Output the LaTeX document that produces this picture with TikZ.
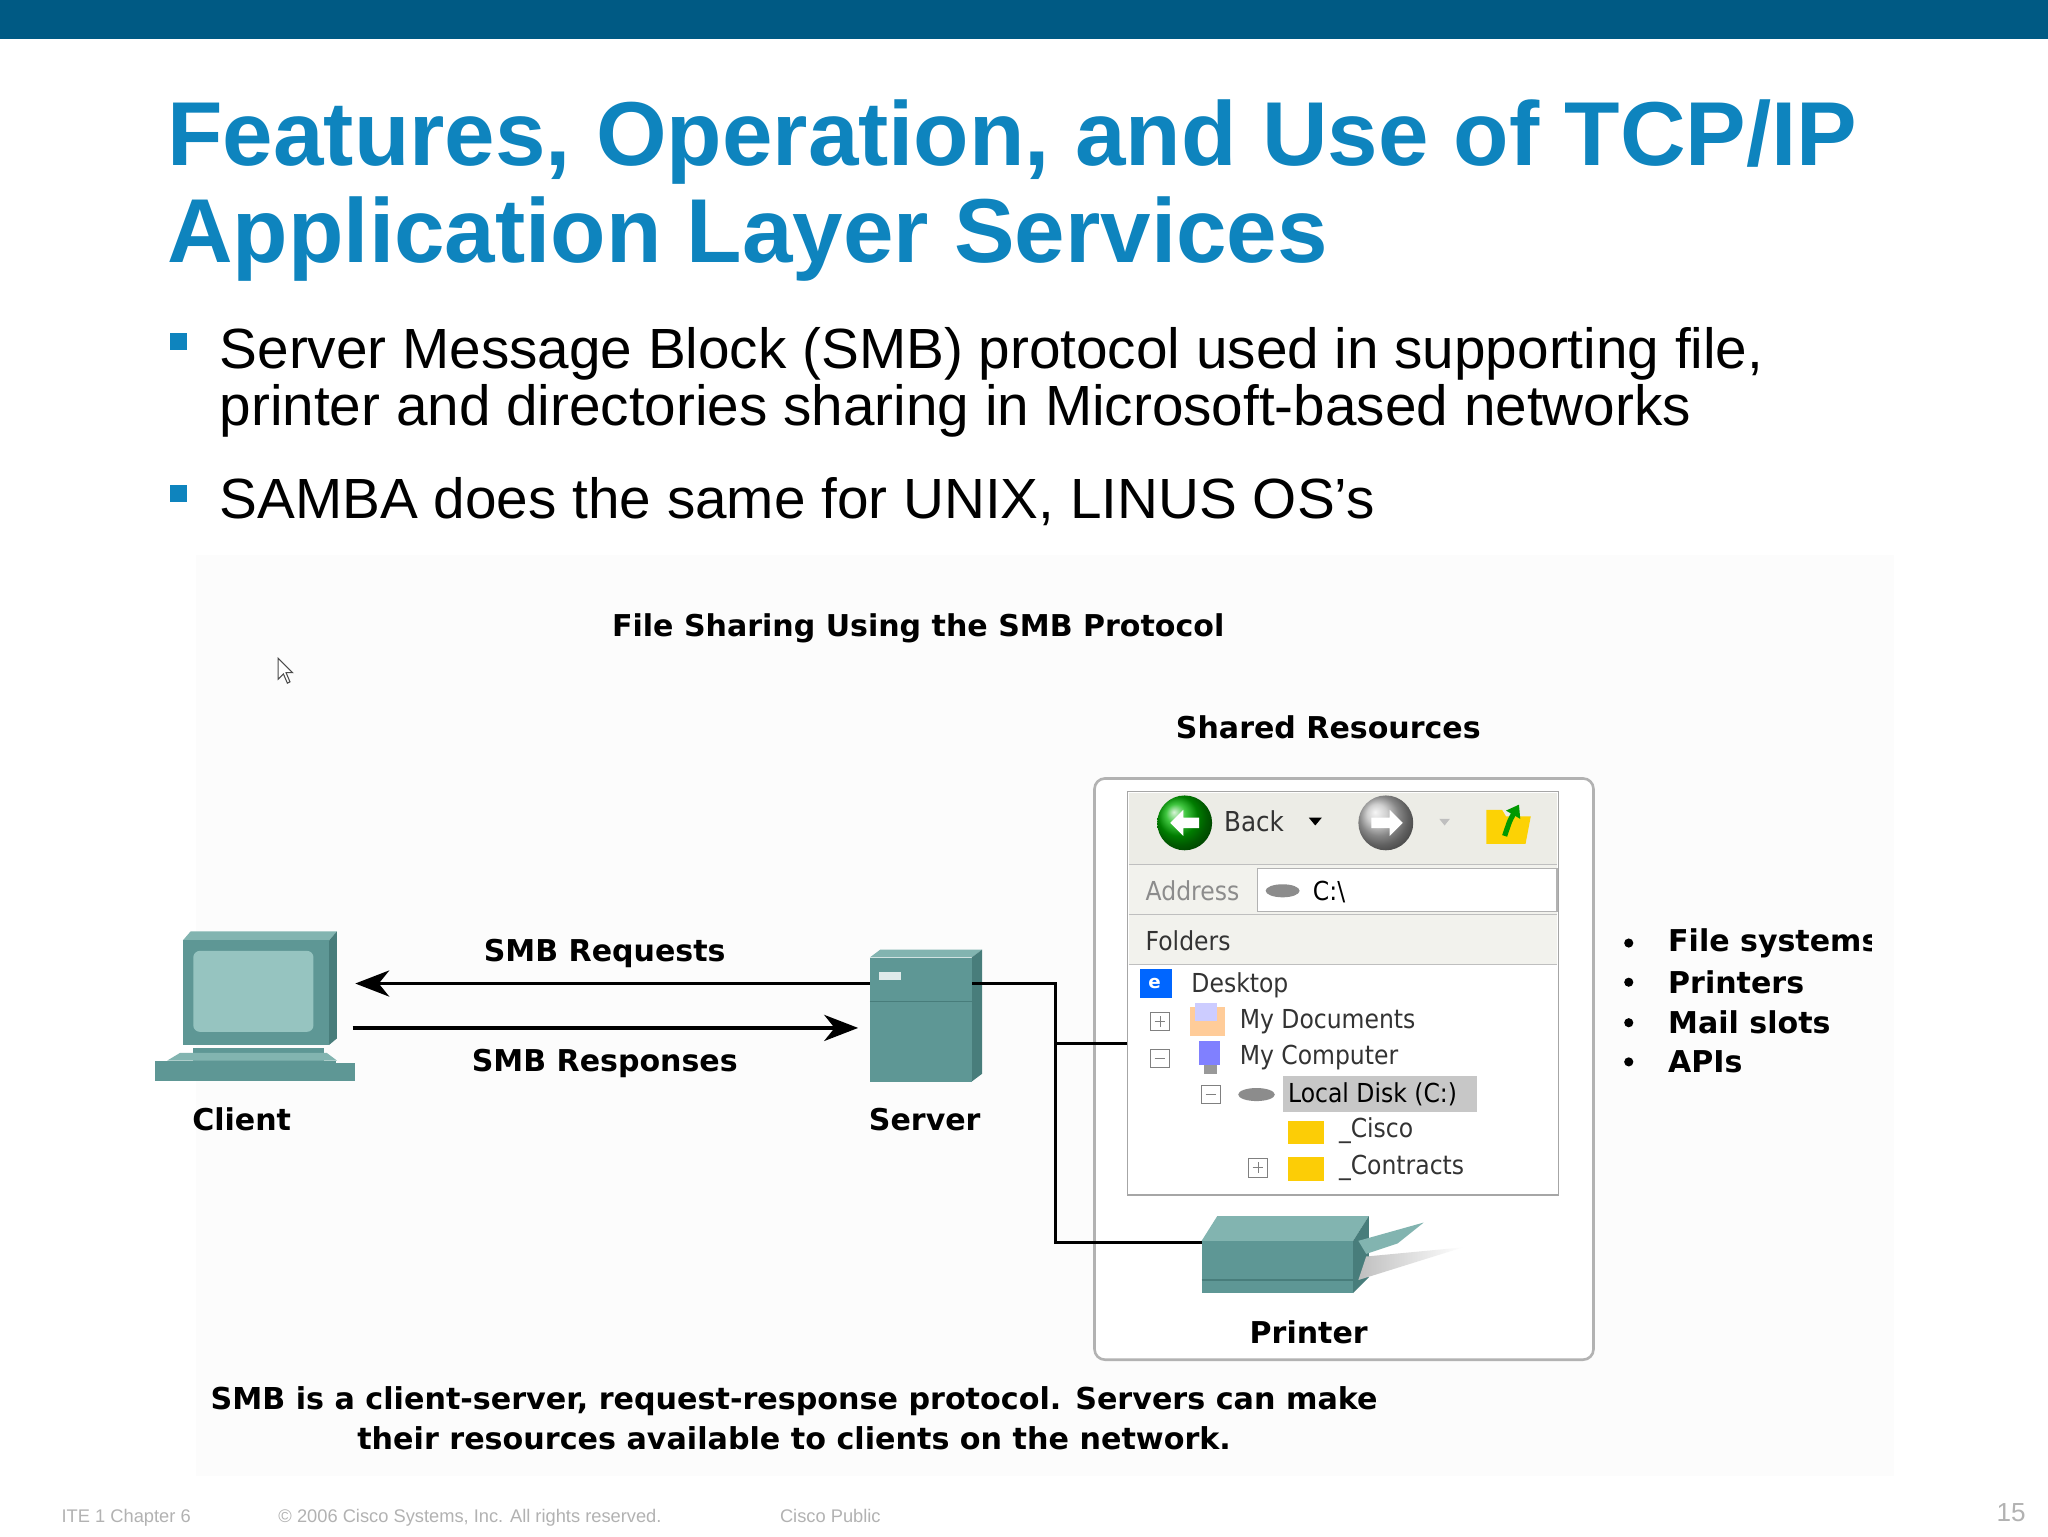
\documentclass[tikz,border=0pt]{standalone}
\usepackage{fontspec}
\setmainfont{Liberation Sans}
\newfontfamily\dv{DejaVu Sans}
\newfontfamily\dvc{DejaVu Sans Condensed}
\usetikzlibrary{arrows.meta}
\definecolor{topbar}{RGB}{0,90,132}
\definecolor{ciscoblue}{RGB}{14,132,190}
\definecolor{teal}{RGB}{94,151,149}
\definecolor{tealtop}{RGB}{130,180,176}
\definecolor{tealside}{RGB}{72,125,123}
\definecolor{tealscr}{RGB}{150,196,192}
\definecolor{tbgray}{RGB}{236,236,230}
\tikzset{
 lab/.style={font=\dv\bfseries\fontsize{23}{27}\selectfont, inner sep=0pt},
 tree/.style={font=\dvc\fontsize{20}{24}\selectfont, anchor=west, inner sep=0pt, text=black!80},
 conn/.style={line width=2.5pt},
 arr/.style={line width=2.5pt, -{Stealth[length=26pt,width=20pt,inset=8pt]}},
 dev/.style={fill=teal},
 foot/.style={font=\fontsize{14}{16}\selectfont, text=black!30, anchor=base west, inner sep=0pt}
}
\begin{document}
\begin{tikzpicture}[x=1pt,y=-1pt]
\useasboundingbox (0,0) rectangle (1568,1176);
\fill[white] (0,0) rectangle (1568,1176);
\fill[black!1.2] (150,425) rectangle (1450,1130);
\fill[topbar] (0,0) rectangle (1568,30);
% title
\node[anchor=base west, inner sep=0pt, text=ciscoblue, font=\bfseries\fontsize{69.5}{74}\selectfont] (t1) at (128,127) {Features, Operation, and Use of TCP/IP};
\node[anchor=base west, inner sep=0pt, text=ciscoblue, font=\bfseries\fontsize{69.5}{74}\selectfont] (t2) at (128,201) {Application Layer Services};
% bullets
\fill[ciscoblue] (130,255) rectangle (143,268);
\fill[ciscoblue] (130,371) rectangle (143,384);
\node[anchor=base west, inner sep=0pt, font=\fontsize{43.4}{44}\selectfont] (b1) at (168,282) {Server Message Block (SMB) protocol used in supporting file,};
\node[anchor=base west, inner sep=0pt, font=\fontsize{43.4}{44}\selectfont] (b1b) at (168,326) {printer and directories sharing in Microsoft-based networks};
\node[anchor=base west, inner sep=0pt, font=\fontsize{43.4}{44}\selectfont] (b2) at (168,397) {SAMBA does the same for UNIX, LINUS OS’s};
% diagram titles
\node[lab] (dt) at (703,481) {File Sharing Using the SMB Protocol};
\node[lab] (sr) at (1017,557) {Shared Resources};
% cursor
\draw[black!70, line width=0.8pt, fill=white] (213,504) -- (213,520) -- (217,516) -- (220,523) -- (222,522) -- (219,515) -- (224,515) -- cycle;
% explorer outer
\draw[black!30, line width=2pt, fill=white, rounded corners=8pt] (838,596) rectangle (1220,1041);
\node[draw=black!35, line width=1pt, fill=white, minimum width=330pt, minimum height=309pt, inner sep=0pt] (win) at (1028,760.5) {};
\fill[tbgray] (864,607) rectangle (1192,662);
\fill[tbgray!70] (864,662) rectangle (1192,738);
\draw[black!25] (864,662) -- (1192,662) (864,738) -- (1192,738) (864,700) -- (1192,700);
\draw[black!30, line width=1pt, fill=white] (963,665) rectangle (1192,698);
% back/forward icons
\shade[ball color=green!70!black] (907,630) circle (21);
\fill[white] (896,630) -- (906,620) -- (906,626) -- (918,626) -- (918,634) -- (906,634) -- (906,640) -- cycle;
\node[tree, font=\dvc\fontsize{21}{24}\selectfont] (back) at (937,629) {Back};
\fill[black] (1002,626) -- (1012,626) -- (1007,632) -- cycle;
\shade[ball color=black!25] (1061,630) circle (21);
\fill[white] (1074,630) -- (1064,620) -- (1064,626) -- (1050,626) -- (1050,634) -- (1064,634) -- (1064,640) -- cycle;
\fill[black!25] (1102,627) -- (1110,627) -- (1106,632) -- cycle;
\fill[yellow!70!orange] (1138,620) -- (1150,620) -- (1153,625) -- (1172,625) -- (1168,646) -- (1138,646) -- cycle;
\draw[green!60!black, line width=4pt, -{Triangle[length=9pt,width=12pt]}] (1152,640) .. controls (1156,628) .. (1163,616);
% address
\node[tree, text=black!45] (addr) at (877,682) {Address};
\fill[black!45] (982,682) ellipse (13 and 5);
\node[tree, text=black] (cdrv) at (1005,683) {C:\textbackslash};
\node[tree] (fold) at (877,720) {Folders};
% tree
\fill[blue!60!cyan] (873,742) rectangle (897,764);
\node[tree, text=white, font=\dv\bfseries\fontsize{14}{14}\selectfont] at (879,753) {e};
\node[tree] (desk) at (912,754) {Desktop};
\draw[black!50] (881,775) rectangle (895,789) (884,782) -- (892,782) (888,778) -- (888,786);
\fill[orange!40] (911,771) rectangle (938,793);
\fill[blue!20] (915,768) rectangle (932,782);
\node[tree] (mydoc) at (949,782) {My Documents};
\draw[black!50] (881,803) rectangle (895,817) (884,810) -- (892,810);
\fill[blue!50] (918,797) rectangle (934,815);
\fill[black!40] (922,815) rectangle (932,822);
\node[tree] (mycomp) at (949,810) {My Computer};
\draw[black!50] (920,831) rectangle (934,845) (923,838) -- (931,838);
\fill[black!45] (962,838) ellipse (14 and 5);
\fill[black!22] (982,824) rectangle (1131,851);
\node[tree, text=black] (ldisk) at (986,838) {Local Disk (C:)};
\fill[yellow!65!orange] (986,858) rectangle (1014,876);
\node[tree] (cisco) at (1025,866) {\_Cisco};
\draw[black!50] (956,887) rectangle (970,901) (959,894) -- (967,894) (963,890) -- (963,898);
\fill[yellow!65!orange] (986,886) rectangle (1014,904);
\node[tree] (contr) at (1025,894) {\_Contracts};
% client computer
\fill[tealtop] (140,720) -- (146,713) -- (258,713) -- (252,720) -- cycle;
\fill[tealside] (252,720) -- (258,713) -- (258,795) -- (252,800) -- cycle;
\fill[teal] (140,720) rectangle (252,800);
\fill[tealscr, rounded corners=5pt] (148,728) rectangle (240,790);
\fill[teal] (148,802) rectangle (248,812);
\fill[teal] (155,812) rectangle (242,820);
\fill[tealtop] (128,812) -- (138,806) -- (250,806) -- (258,812) -- cycle;
\node[dev, draw=none, inner sep=0pt, minimum width=138pt, minimum height=16pt] (client) at (188,820) {};
\fill[teal] (254,814) rectangle (272,828);
\node[lab] (cl) at (185,857) {Client};
% server
\fill[tealtop] (666,733) -- (674,727) -- (752,727) -- (744,733) -- cycle;
\fill[tealside] (744,733) -- (752,727) -- (752,822) -- (744,828) -- cycle;
\node[dev, inner sep=0pt, minimum width=78pt, minimum height=95pt, anchor=north west] (server) at (666,733) {};
\draw[tealside, line width=1pt] (666,767) -- (744,767);
\fill[white!80!teal] (673,744) rectangle (690,750);
\node[lab] (sv) at (708,857) {Server};
% arrows
\coordinate (reqS) at (server.west |- 0,753);
\coordinate (reqE) at (272,753);
\draw[arr] (reqS) -- (reqE);
\coordinate (resS) at (270,787);
\coordinate (resE) at (657,787);
\draw[arr] (resS) -- (resE);
\node[lab] (req) at (463,730) {SMB Requests};
\node[lab] (res) at (463,814) {SMB Responses};
% printer
\fill[tealtop] (920,950) -- (932,931) -- (1048,931) -- (1036,950) -- cycle;
\fill[tealside] (1036,950) -- (1048,931) -- (1048,978) -- (1036,990) -- cycle;
\node[dev, inner sep=0pt, minimum width=116pt, minimum height=40pt, anchor=north west] (printer) at (920,950) {};
\draw[tealside, line width=1pt] (920,980) -- (1036,980);
\fill[tealtop] (1040,950) -- (1090,936) -- (1070,952) -- (1046,960) -- cycle;
\shade[left color=black!25, right color=white] (1046,962) -- (1120,955) -- (1040,980) -- cycle;
\node[lab] (pr) at (1002,1020) {Printer};
% connections
\coordinate (j1) at (808,753);
\coordinate (j2) at (808,799);
\coordinate (j3) at (808,951);
\draw[conn] (server.east |- j1) -- (j1) -- (j3) -- (printer.west |- j3);
\draw[conn] (j2) -- (win.west |- j2);
% resources list
\begin{scope}
\clip (1230,700) rectangle (1433,830);
\foreach \y/\t in {722/File systems,752/Printers,783/Mail slots,813/APIs}{
 \fill (1247,\y) circle (3.5);
 \node[lab, anchor=west] at (1277,\y) {\t};
}
\end{scope}
% caption
\node[lab, align=center, font=\dv\bfseries\fontsize{23.1}{31}\selectfont] (cap) at (608,1086) {SMB is a client-server, request-response protocol. Servers can make\\their resources available to clients on the network.};
% footer
\node[foot] (f1) at (47,1166) {ITE 1 Chapter 6};
\node[foot] (f2) at (213,1166) {© 2006 Cisco Systems, Inc. All rights reserved.};
\node[foot] (f3) at (597,1166) {Cisco Public};
\node[foot, font=\fontsize{20}{22}\selectfont, anchor=base east] (f4) at (1551,1165) {15};
\end{tikzpicture}
\end{document}
